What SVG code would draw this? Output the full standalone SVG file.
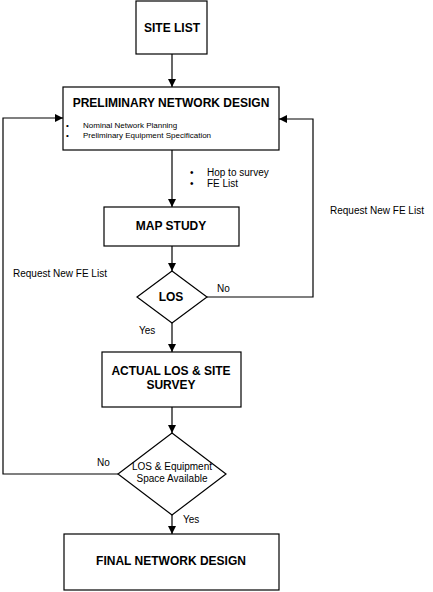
<svg xmlns="http://www.w3.org/2000/svg" width="433" height="592" viewBox="0 0 433 592">
<style>
.box{fill:#fff;stroke:#000;stroke-width:1.2}
.t{font-family:"Liberation Sans",Arial,sans-serif;fill:#000}
.b{font-weight:bold;font-size:12px;text-anchor:middle}
.s{font-size:10px}
.xs{font-size:8px}
.c{text-anchor:middle}
.ln{fill:none;stroke:#000;stroke-width:1.2}
</style>
<defs>
<marker id="ah" markerUnits="userSpaceOnUse" markerWidth="10" markerHeight="10" refX="8" refY="4" orient="auto">
<path d="M0,0 L8,4 L0,8 Z" fill="#000"/>
</marker>
</defs>
<rect width="433" height="592" fill="#fff"/>
<g id="connectors">
<line class="ln" x1="172" y1="54" x2="172" y2="87" marker-end="url(#ah)"/>
<line class="ln" x1="172" y1="150" x2="172" y2="207" marker-end="url(#ah)"/>
<line class="ln" x1="172" y1="246" x2="172" y2="271" marker-end="url(#ah)"/>
<line class="ln" x1="172" y1="323" x2="172" y2="352" marker-end="url(#ah)"/>
<line class="ln" x1="172" y1="407" x2="172" y2="433" marker-end="url(#ah)"/>
<line class="ln" x1="172" y1="515" x2="172" y2="534" marker-end="url(#ah)"/>
<polyline class="ln" points="207,297 313,297 313,119 279,119" marker-end="url(#ah)"/>
<polyline class="ln" points="118,474 3,474 3,118 63,118" marker-end="url(#ah)"/>
<text class="t s" x="217" y="292">No</text>
<text class="t s" x="139" y="334">Yes</text>
<text class="t s" x="97" y="466">No</text>
<text class="t s" x="183" y="523">Yes</text>
<text class="t s" x="330" y="214">Request New FE List</text>
<text class="t s" x="13" y="277">Request New FE List</text>
<text class="t s" x="190" y="176">•</text>
<text class="t s" x="207" y="176">Hop to survey</text>
<text class="t s" x="190" y="187">•</text>
<text class="t s" x="207" y="187">FE List</text>
</g>
<g id="site-list">
<rect class="box" x="136" y="1" width="71" height="53"/>
<text class="t b" x="172" y="32">SITE LIST</text>
</g>
<g id="preliminary-network-design">
<rect class="box" x="63" y="87" width="216" height="63"/>
<text class="t b" x="171" y="107">PRELIMINARY NETWORK DESIGN</text>
<text class="t xs" x="66" y="128">•</text>
<text class="t xs" x="83" y="128">Nominal Network Planning</text>
<text class="t xs" x="66" y="138">•</text>
<text class="t xs" x="83" y="138">Preliminary Equipment Specification</text>
</g>
<g id="map-study">
<rect class="box" x="104" y="207" width="135" height="39"/>
<text class="t b" x="171" y="230">MAP STUDY</text>
</g>
<g id="los">
<polygon class="box" points="172,271 207,297 172,323 137,297"/>
<text class="t b" x="171" y="301">LOS</text>
</g>
<g id="actual-los-site-survey">
<rect class="box" x="102" y="352" width="139" height="55"/>
<text class="t b" x="171" y="375">ACTUAL LOS &amp; SITE</text>
<text class="t b" x="171" y="389">SURVEY</text>
</g>
<g id="los-equipment-space">
<polygon class="box" points="172,433 226,474 172,515 118,474"/>
<text class="t s c" x="172" y="470">LOS &amp; Equipment</text>
<text class="t s c" x="172" y="482">Space Available</text>
</g>
<g id="final-network-design">
<rect class="box" x="64" y="534" width="215" height="56"/>
<text class="t b" x="171" y="565">FINAL NETWORK DESIGN</text>
</g>
</svg>
